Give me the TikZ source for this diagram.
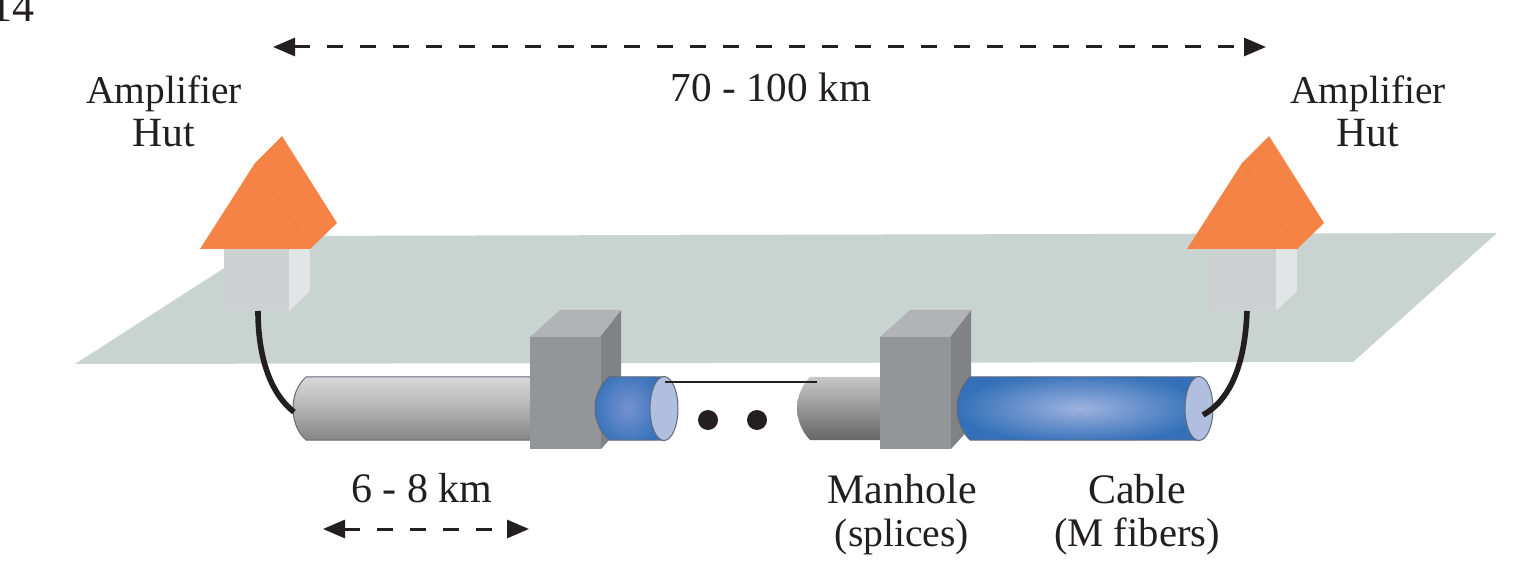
\documentclass[tikz,border=0pt]{standalone}
\usepackage{fontspec}
\setmainfont{Liberation Serif}
\usetikzlibrary{arrows.meta}
\definecolor{ink}{HTML}{231F20}
\definecolor{groundc}{HTML}{C9D3D0}
\definecolor{roofc}{HTML}{F58345}
\definecolor{roofd}{HTML}{F07F40}
\definecolor{wallc}{HTML}{CDD0D0}
\definecolor{wallside}{HTML}{E2E5E5}
\definecolor{boxfront}{HTML}{939598}
\definecolor{boxtop}{HTML}{B1B3B6}
\definecolor{boxside}{HTML}{808285}
\definecolor{blueedge}{HTML}{3370B9}
\definecolor{bluemida}{HTML}{7692D0}
\definecolor{bluemidb}{HTML}{9EB2DE}
\definecolor{faceblue}{HTML}{B0BEE0}
\definecolor{cableline}{HTML}{5F6B78}
\newcommand\sized[2]{{\fontsize{#1}{21.6}\selectfont #2}}
\tikzset{
  label text/.style={inner sep=0pt,align=center,text=ink,font=\fontsize{20.6}{21.6}\selectfont},
  span/.style={draw=ink,line width=1.5pt,dash pattern=on 8pt off 8.5pt,
    {Triangle[length=11pt,width=9pt]}-{Triangle[length=11pt,width=9pt]}},
  wire/.style={draw=ink,line width=2.8pt},
  thin fibre/.style={draw=ink,line width=1pt},
  dot/.style={circle,fill=ink,minimum size=10pt,inner sep=0pt},
  cable face/.style={fill=faceblue,draw=cableline,line width=0.5pt},
  cable rim/.style={draw=cableline,line width=0.5pt},
}
\begin{document}
\begin{tikzpicture}[x=0.5pt,y=-0.5pt]
\useasboundingbox (0,0) rectangle (1514,566);
% ground
\fill[groundc] (75,364) -- (274,236) -- (1497,233) -- (1353,362) -- cycle;
% huts
\foreach \dx in {0,987}{
\begin{scope}[xshift=\dx*0.5pt]
  \fill[wallc] (224,249) rectangle (289,311);
  \fill[wallside] (289,249) -- (310,249) -- (310,291) -- (289,311) -- cycle;
  \fill[roofc] (200,249) -- (310,249) -- (337,223) -- (282,136) -- (255,163) -- cycle;
  \draw[roofd,line width=0.3pt] (255,163) -- (310,249);
\end{scope}}
% gray cable 1
\begin{scope}
  \clip (306,377) .. controls (297,385) and (293,397) .. (293,408) .. controls (293,420) and (297,432) .. (306,440) -- (535,440) -- (535,377) -- cycle;
  \shade[top color=black!15,bottom color=black!48,middle color=black!30] (290,377) rectangle (535,440);
\end{scope}
\draw[cable rim] (535,377) -- (306,377) .. controls (297,385) and (293,397) .. (293,408) .. controls (293,420) and (297,432) .. (306,440) -- (535,440);
% gray cable 2
\begin{scope}
  \clip (810,377) .. controls (802,385) and (797,397) .. (797,408) .. controls (797,420) and (802,432) .. (810,440) -- (885,440) -- (885,377) -- cycle;
  \shade[top color=black!22,bottom color=black!60] (795,377) rectangle (885,440);
\end{scope}
% manholes
\foreach \dx in {0,350}{
\begin{scope}[xshift=\dx*0.5pt]
  \fill[boxside] (600,337) -- (621,310) -- (621,427) -- (601,449) -- cycle;
  \fill[boxtop] (530,337) -- (560,310) -- (621,310) -- (600,337) -- cycle;
  \fill[boxfront] (530,337) rectangle (601,449);
\end{scope}}
% blue cable 1
\begin{scope}
  \clip (609,377) .. controls (600,385) and (595,397) .. (595,408) .. controls (595,420) and (600,432) .. (609,440) -- (665,440) -- (665,377) -- cycle;
  \fill[blueedge] (590,370) rectangle (670,445);
  \shade[inner color=bluemida,outer color=blueedge] (628,408) ellipse (38 and 42);
\end{scope}
\draw[cable rim] (665,377) -- (609,377) .. controls (600,385) and (595,397) .. (595,408) .. controls (595,420) and (600,432) .. (609,440) -- (665,440);
\draw[cable face] (664,408.5) ellipse (14 and 32);
% blue cable 2
\begin{scope}
  \clip (970,377) .. controls (962,385) and (957,397) .. (957,408) .. controls (957,420) and (962,432) .. (970,440) -- (1199,440) -- (1199,377) -- cycle;
  \fill[blueedge] (950,370) rectangle (1205,445);
  \shade[inner color=bluemidb,outer color=blueedge] (1080,408) ellipse (125 and 36);
\end{scope}
\draw[cable rim] (1199,377) -- (970,377) .. controls (962,385) and (957,397) .. (957,408) .. controls (957,420) and (962,432) .. (970,440) -- (1199,440);
\draw[cable face] (1199,408.5) ellipse (14 and 32);
% connectors
\coordinate (huta) at (258,311);
\coordinate (hutb) at (1247,311);
\coordinate (cablea) at (294,412);
\coordinate (cableb) at (1203,415);
\draw[wire] (huta) .. controls (258,360) and (272,395) .. (cablea);
\draw[wire] (hutb) .. controls (1245,365) and (1230,400) .. (cableb);
\coordinate (fibrea) at (665,382.5);
\coordinate (fibreb) at (817,382.5);
\draw[thin fibre] (fibrea) -- (fibreb);
\node[dot] (dota) at (708,420) {};
\node[dot] (dotb) at (757,420) {};
% dimension arrows
\coordinate (longa) at (273,47);
\coordinate (longb) at (1266,47);
\draw[span] (longa) -- (longb);
\coordinate (shorta) at (323,529);
\coordinate (shortb) at (529,529);
\draw[span] (shorta) -- (shortb);
% labels
\node[label text,anchor=base east] (page) at (35,22) {\sized{22}{14}};
\node[label text] (ampa) at (164,111) {\sized{19.7}{Amplifier}\\\sized{20.8}{Hut}};
\node[label text] (ampb) at (1368,111) {\sized{19.7}{Amplifier}\\\sized{20.8}{Hut}};
\node[label text,anchor=base] (far) at (771,102) {70 - 100 km};
\node[label text,anchor=base] (near) at (422,502) {\sized{21}{6 - 8 km}};
\node[label text] (man) at (902,515) {\sized{21}{Manhole}\\\sized{19.8}{(splices)}};
\node[label text] (cab) at (1137,515) {\sized{21}{Cable}\\\sized{20.3}{(M fibers)}};
\end{tikzpicture}
\end{document}
